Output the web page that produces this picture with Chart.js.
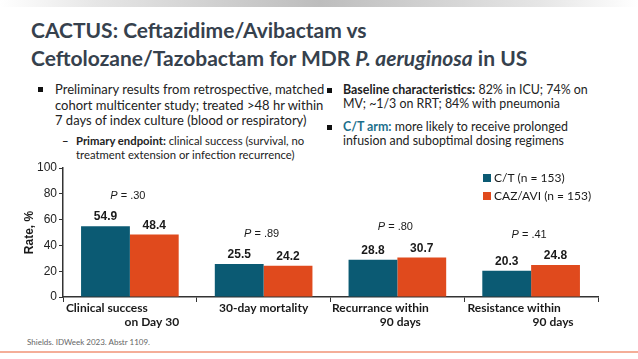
<!DOCTYPE html>
<html>
<head>
<meta charset="utf-8">
<script src="https://cdn.jsdelivr.net/npm/chart.js@4.4.0/dist/chart.umd.min.js"></script>
<style>
	html, body { margin: 0; padding: 0; }
	body { width: 638px; height: 359px; position: relative; overflow: hidden; background: #fff; font-family: Lato, "Open Sans", sans-serif; color: #222; }
	.topbar { position: absolute; left: 0; top: 0; width: 638px; height: 7px; background: linear-gradient(to right, #fff 0%, #e6e6e6 15%, #bdbdbd 50%, #e6e6e6 85%, #fff 100%); }
	.title { position: absolute; left: 31px; top: 16px; font-size: 21px; font-weight: bold; color: #36414d; line-height: 28px; white-space: nowrap; }
	.col { position: absolute; font-size: 13px; line-height: 15.5px; white-space: nowrap; }
	.b { position: relative; padding-left: 17px; }
	.b:before { content: ""; position: absolute; left: 0; top: 5px; width: 5px; height: 5px; background: #111; }
	.sub { position: relative; padding-left: 14px; margin-left: 24px; margin-top: 5px; font-size: 11.3px; line-height: 14px; }
	.sub:before { content: "\2013"; position: absolute; left: 0; top: 0; font-weight: bold; }
	.teal { color: #1c6f8c; font-weight: bold; }
	#wrap { position: absolute; left: 0; top: 155px; width: 638px; height: 180px; }
	.foot { position: absolute; left: 27px; top: 337px; font-size: 8px; color: #666; }
	.bottomline { position: absolute; left: 0; top: 351px; width: 638px; height: 2px; background: #f4ae98; }
</style>
</head>
<body>
<div class="topbar"></div>
<div class="title">CACTUS: Ceftazidime/Avibactam vs<br>Ceftolozane/Tazobactam for MDR <i>P. aeruginosa</i> in US</div>
<div class="col" style="left:38px; top:82px;">
	<div class="b">Preliminary results from retrospective, matched<br>cohort multicenter study; treated &gt;48 hr within<br>7 days of index culture (blood or respiratory)</div>
	<div class="sub"><b>Primary endpoint:</b> clinical success (survival, no<br>treatment extension or infection recurrence)</div>
</div>
<div class="col" style="left:327px; top:83px; font-size:12.4px; line-height:13.5px;">
	<div class="b" style="padding-left:16px;"><b>Baseline characteristics:</b> 82% in ICU; 74% on<br>MV; ~1/3 on RRT; 84% with pneumonia</div>
	<div class="b" style="padding-left:16px; margin-top:10px;"><span class="teal">C/T arm:</span> more likely to receive prolonged<br>infusion and suboptimal dosing regimens</div>
</div>
<div id="wrap"><canvas id="chart" width="638" height="180"></canvas></div>
<div class="foot">Shields. IDWeek 2023. Abstr 1109.</div>
<div class="bottomline"></div>
<script>
const categories = [["Clinical success", "on Day 30"], ["30-day mortality"], ["Recurrance within", "90 days"], ["Resistance within", "90 days"]]
const ctValues = [54.9, 25.5, 28.8, 20.3]
const cazValues = [48.4, 24.2, 30.7, 24.8]
const pValues = [".30", ".89", ".80", ".41"]
const yTicks = [0, 20, 40, 60, 80, 100]

// offsets of each label line from category centre (px)
const labelShift = [[-23, 22], [0], [-17, 3], [-17, 22]]

const extras = {
	id: "extras",
	afterDatasetsDraw(chart) {
		const ctx = chart.ctx
		const x = chart.scales.x
		const y = chart.scales.y
		ctx.save()
		ctx.fillStyle = "#1a1a1a"
		ctx.textAlign = "center"
		ctx.textBaseline = "bottom"
		ctx.font = "bold 12px 'Liberation Sans', Arial, sans-serif"
		chart.data.datasets.forEach((ds, i) => {
			chart.getDatasetMeta(i).data.forEach((bar, j) => {
				ctx.fillText(ds.data[j].toFixed(1), bar.x, bar.y - 3)
			})
		})
		// p values
		categories.forEach((c, j) => {
			const top = y.getPixelForValue(Math.max(ctValues[j], cazValues[j]))
			const cx = x.getPixelForValue(j)
			const py = top - 25
			ctx.font = "italic 11px 'Liberation Sans', Arial, sans-serif"
			const w1 = ctx.measureText("P").width
			ctx.font = "11px 'Liberation Sans', Arial, sans-serif"
			const rest = " = " + pValues[j]
			const w2 = ctx.measureText(rest).width
			const sx = cx - (w1 + w2) / 2 - 2
			ctx.textAlign = "left"
			ctx.font = "italic 11px 'Liberation Sans', Arial, sans-serif"
			ctx.fillText("P", sx, py)
			ctx.font = "11px 'Liberation Sans', Arial, sans-serif"
			ctx.fillText(rest, sx + w1, py)
			ctx.textAlign = "center"
		})
		// category labels
		ctx.font = "bold 12px Lato, sans-serif"
		ctx.textBaseline = "top"
		categories.forEach((lines, j) => {
			const cx = x.getPixelForValue(j)
			lines.forEach((t, k) => {
				ctx.fillText(t, cx + labelShift[j][k], y.bottom + 5 + k * 14)
			})
		})
		// legend
		ctx.textAlign = "left"
		ctx.textBaseline = "middle"
		ctx.font = "12px Lato, sans-serif"
		chart.data.datasets.forEach((ds, i) => {
			const ly = 23 + i * 18
			ctx.fillStyle = ds.backgroundColor
			ctx.fillRect(483, ly - 4, 8, 8)
			ctx.fillStyle = "#1a1a1a"
			ctx.fillText(ds.label, 494, ly)
		})
		ctx.restore()
	}
}

new Chart(document.getElementById("chart").getContext("2d"), {
	type: "bar",
	data: {
		labels: categories,
		datasets: [
			{
				label: "C/T (n = 153)",
				data: ctValues,
				backgroundColor: "#0b5a73",
				barPercentage: 1,
				categoryPercentage: 0.73
			},
			{
				label: "CAZ/AVI (n = 153)",
				data: cazValues,
				backgroundColor: "#e04a1d",
				barPercentage: 1,
				categoryPercentage: 0.73
			}
		]
	},
	options: {
		responsive: false,
		animation: false,
		layout: {
			padding: { top: 13, right: 40, bottom: 0, left: 22 }
		},
		scales: {
			y: {
				min: 0,
				max: 100,
				afterBuildTicks: (s) => { s.ticks = yTicks.map(v => ({ value: v })) },
				afterFit: (s) => { s.width = 41 },
				title: {
					display: true,
					text: "Rate, %",
					color: "#1a1a1a",
					font: { family: "'Liberation Sans', Arial, sans-serif", size: 12, weight: "bold" },
					padding: { top: 0, bottom: 0 }
				},
				ticks: {
					color: "#222",
					font: { family: "'Liberation Sans', Arial, sans-serif", size: 12 },
					padding: 2
				},
				grid: {
					drawOnChartArea: false,
					tickLength: 4,
					color: "#333"
				},
				border: { color: "#333", width: 1.5 }
			},
			x: {
				afterFit: (s) => { s.height = 38 },
				ticks: { display: false },
				grid: {
					drawOnChartArea: false,
					tickLength: 5,
					color: "#333",
					offset: true
				},
				border: { color: "#333", width: 1.5 }
			}
		},
		plugins: {
			legend: { display: false },
			tooltip: { enabled: false }
		}
	},
	plugins: [extras]
})
</script>
</body>
</html>
